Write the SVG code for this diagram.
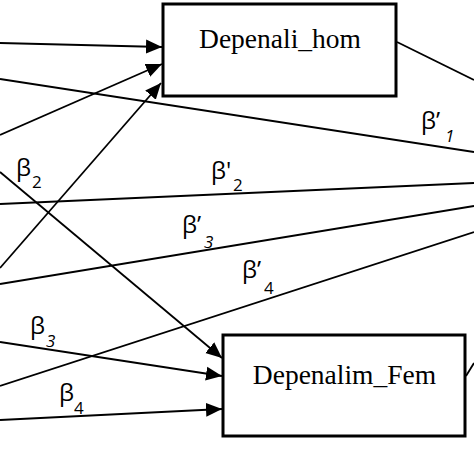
<svg xmlns="http://www.w3.org/2000/svg" width="474" height="474" viewBox="0 0 474 474">
<style>
.box{fill:#fff;stroke:#000;stroke-width:3}
.lbl{font-family:"Liberation Serif","Times New Roman",serif;font-size:27.5px;fill:#000;text-anchor:middle}
.ln{stroke:#000;stroke-width:1.8;fill:none}
.arr{marker-end:url(#ah)}
.b{font-family:"Open Sans","Noto Sans",sans-serif;font-size:24px;fill:#000}
.s{font-size:17px}
.i{font-style:italic}
</style>
<defs>
<marker id="ah" markerUnits="userSpaceOnUse" markerWidth="18" markerHeight="16" viewBox="0 0 18 16" refX="16" refY="8" orient="auto">
<path d="M0,1 L16,8 L0,15 Z" fill="#000"/>
</marker>
</defs>
<rect width="474" height="474" fill="#fff"/>
<g id="connectors">
<line class="ln arr" x1="0" y1="43" x2="162" y2="47"/>
<line class="ln arr" x1="0" y1="135" x2="162" y2="64"/>
<line class="ln arr" x1="0" y1="268" x2="161" y2="83"/>
<line class="ln" x1="0" y1="79" x2="474" y2="152"/>
<line class="ln" x1="0" y1="204" x2="474" y2="183"/>
<line class="ln" x1="0" y1="284" x2="474" y2="206"/>
<line class="ln" x1="0" y1="386" x2="474" y2="232"/>
<line class="ln arr" x1="0" y1="172" x2="222" y2="358"/>
<line class="ln arr" x1="0" y1="342" x2="222" y2="376"/>
<line class="ln arr" x1="0" y1="420" x2="222" y2="409"/>
<line class="ln" x1="397" y1="42" x2="474" y2="80"/>
<line class="ln" x1="466" y1="376" x2="474" y2="363"/>
</g>
<g id="node-hom">
<rect class="box" x="163" y="4" width="233" height="92"/>
<text class="lbl" x="280" y="48">Depenali_hom</text>
</g>
<g id="node-fem">
<rect class="box" x="223" y="335" width="242" height="101"/>
<text class="lbl" x="344.5" y="384">Depenalim_Fem</text>
</g>
<g id="labels">
<text class="b" x="16" y="176">β</text><text class="b s" x="32" y="188">2</text>
<text class="b" x="30" y="334">β</text><text class="b s i" x="46" y="347">3</text>
<text class="b" x="59" y="401">β</text><text class="b s" x="74" y="414">4</text>
<text class="b" x="421" y="129">β’</text><text class="b s i" x="445" y="142">1</text>
<text class="b" x="211" y="179">β'</text><text class="b s" x="233" y="191">2</text>
<text class="b" x="182" y="233">β’</text><text class="b s i" x="204" y="248">3</text>
<text class="b" x="242" y="278">β’</text><text class="b s" x="264" y="294">4</text>
</g>
</svg>
